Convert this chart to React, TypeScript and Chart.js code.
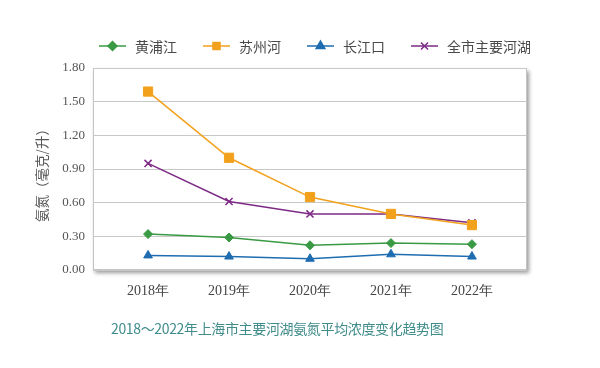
import React, { useEffect, useRef } from "react";
import { Chart, registerables } from "chart.js";
import { drawPoint } from "chart.js/helpers";

Chart.register(...registerables);

// Years on the x axis and tick values on the y axis
const years = [2018, 2019, 2020, 2021, 2022];
const yTicks = [0, 0.3, 0.6, 0.9, 1.2, 1.5, 1.8];

// Annual mean ammonia nitrogen (mg/L)
const huangpu = [0.32, 0.29, 0.22, 0.24, 0.23];
const suzhou = [1.59, 1.0, 0.65, 0.5, 0.4];
const changjiang = [0.13, 0.12, 0.1, 0.14, 0.12];
const cityAll = [0.95, 0.61, 0.5, 0.5, 0.42];

const seriesNames = ["黄浦江", "苏州河", "长江口", "全市主要河湖"];
const yTitle = "氨氮（毫克/升）";
const caption = "2018～2022年上海市主要河湖氨氮平均浓度变化趋势图";

const colors = ["#3a9a44", "#f2a11c", "#1f6db0", "#7d2a86"];
const markers = ["rectRot", "rect", "triangle", "crossRot"];
const radii = [4.5, 6.5, 5, 5];

const SANS = "'Noto Sans CJK SC', 'Noto Sans', sans-serif";
const SERIF = "'Liberation Serif', 'DejaVu Serif', serif";

const toXY = (vals: number[]) => vals.map((v, i) => ({ x: years[i], y: v }));

// White plot panel with a soft drop shadow and a thin grey frame
const panelPlugin = {
  id: "panel",
  beforeDraw(chart: any) {
    const { ctx, chartArea: a } = chart;
    ctx.save();
    ctx.shadowColor = "rgba(0,0,0,0.4)";
    ctx.shadowBlur = 4;
    ctx.shadowOffsetX = 2;
    ctx.shadowOffsetY = 3;
    ctx.fillStyle = "#ffffff";
    ctx.fillRect(a.left, a.top, a.right - a.left, a.bottom - a.top);
    ctx.restore();
    ctx.save();
    ctx.strokeStyle = "#c4c4c4";
    ctx.lineWidth = 1;
    ctx.strokeRect(a.left + 0.5, a.top + 0.5, a.right - a.left - 1, a.bottom - a.top - 1);
    ctx.restore();
  },
};

// Line-and-marker legend, rotated y title and the caption underneath
const decorPlugin = {
  id: "decor",
  afterDraw(chart: any) {
    const { ctx } = chart;
    ctx.save();
    ctx.font = `14px ${SANS}`;
    ctx.textBaseline = "middle";
    const y = 46;
    let x = 99;
    chart.data.datasets.forEach((ds: any) => {
      ctx.strokeStyle = ds.borderColor;
      ctx.fillStyle = ds.backgroundColor;
      ctx.lineWidth = 1.5;
      ctx.beginPath();
      ctx.moveTo(x, y);
      ctx.lineTo(x + 27, y);
      ctx.stroke();
      const r = Math.min(ds.pointRadius, 5);
      drawPoint(
        ctx,
        { pointStyle: ds.pointStyle, radius: r, borderWidth: 1.5, rotation: 0 } as any,
        x + 13.5,
        y
      );
      ctx.fillStyle = "#4a4a4a";
      ctx.fillText(ds.label, x + 36, y + 1);
      x += 36 + ctx.measureText(ds.label).width + 26;
    });

    // y axis title
    ctx.save();
    ctx.translate(42, 172);
    ctx.rotate(-Math.PI / 2);
    ctx.textAlign = "center";
    ctx.font = `13.5px ${SANS}`;
    ctx.fillStyle = "#555555";
    ctx.fillText(yTitle, 0, 0);
    ctx.restore();

    // caption
    ctx.font = `14px ${SANS}`;
    ctx.fillStyle = "#3f8c8a";
    ctx.textAlign = "left";
    (ctx as any).letterSpacing = "-0.35px";
    ctx.fillText(caption, 111, 329);
    ctx.restore();
  },
};

export default function App() {
  const ref = useRef<HTMLCanvasElement>(null);

  useEffect(() => {
    if (!ref.current) return;
    const all = [huangpu, suzhou, changjiang, cityAll];
    const chart = new Chart(ref.current, {
      type: "line",
      data: {
        datasets: all.map((vals, i) => ({
          label: seriesNames[i],
          data: toXY(vals),
          borderColor: colors[i],
          backgroundColor: colors[i],
          borderWidth: 1.5,
          pointStyle: markers[i] as any,
          pointRadius: radii[i],
          pointBorderWidth: i === 3 ? 1.5 : 1,
          pointBorderColor: colors[i],
          pointBackgroundColor: colors[i],
          tension: 0,
          fill: false,
        })),
      },
      options: {
        animation: false,
        responsive: false,
        devicePixelRatio: 1,
        layout: { padding: { left: 0, top: 68, right: 73, bottom: 68 } },
        plugins: { legend: { display: false }, tooltip: { enabled: false } },
        scales: {
          x: {
            type: "linear",
            min: 2017.32,
            max: 2022.68,
            afterBuildTicks: (scale: any) => {
              scale.ticks = years.map((v) => ({ value: v }));
            },
            afterFit: (scale: any) => {
              scale.height = 30;
            },
            grid: { display: false, drawTicks: false },
            border: { display: false },
            ticks: {
              padding: 13,
              color: "#444444",
              font: { family: SERIF, size: 14 },
              callback: (v: any) => `${v}年`,
            },
          },
          y: {
            min: 0,
            max: 1.8,
            afterBuildTicks: (scale: any) => {
              scale.ticks = yTicks.map((v) => ({ value: v }));
            },
            afterFit: (scale: any) => {
              scale.width = 93;
            },
            grid: { color: "#c8c8c8", lineWidth: 1, drawTicks: false },
            border: { display: false },
            ticks: {
              padding: 8,
              color: "#555555",
              font: { family: SERIF, size: 13 },
              callback: (v: any) => Number(v).toFixed(2),
            },
          },
        },
      },
      plugins: [panelPlugin, decorPlugin],
    });
    return () => chart.destroy();
  }, []);

  return (
    <div style={{ position: "fixed", left: 0, top: 0, width: 600, height: 368, background: "#fff" }}>
      <canvas ref={ref} width={600} height={368} />
    </div>
  );
}
